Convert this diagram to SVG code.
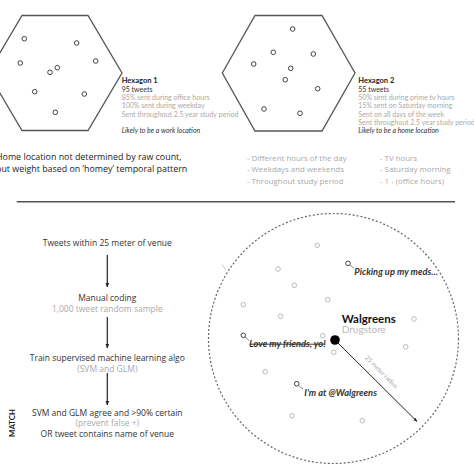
<svg xmlns="http://www.w3.org/2000/svg" width="474" height="474" viewBox="0 0 474 474">
<defs>
<style>
text{font-family:Lato,"Noto Sans","Liberation Sans",sans-serif;}
.os{font-family:"Open Sans","Noto Sans","Liberation Sans",sans-serif;}
.hex{fill:none;stroke:#555;stroke-width:1.3;}
.d{fill:#fff;stroke:#444;stroke-width:1;}
.g{fill:#fff;stroke:#bbb;stroke-width:1;}
.t7{font-size:7px;fill:#333;}
.t7b{font-size:7.5px;fill:#222;font-weight:bold;}
.t7g{font-size:7px;fill:#aaa;}
.t7i{font-size:7px;fill:#333;font-style:italic;}
.f{font-size:8.5px;fill:#333;text-anchor:middle;}
.fg{font-size:8.5px;fill:#aaa;text-anchor:middle;}
.lst{font-size:7.9px;fill:#aaa;}
.note{font-size:8.9px;fill:#222;}
.q{font-size:9.3px;fill:#333;font-weight:bold;font-style:italic;}
.arr{stroke:#222;stroke-width:1.2;fill:none;marker-end:url(#ah);}
</style>
<marker id="ah" viewBox="0 0 10 10" refX="9" refY="5" markerWidth="4" markerHeight="4" orient="auto"><path d="M0,1 L10,5 L0,9 Z" fill="#222"/></marker>
</defs>
<rect width="474" height="474" fill="#fff"/>

<g id="hexagon1">
<polygon class="hex" points="-12,73 22,15.5 88,15.5 122,73 88,130.5 22,130.5"/>
<circle class="d" cx="24.3" cy="38.7" r="2.3"/>
<circle class="d" cx="76.7" cy="43" r="2.3"/>
<circle class="d" cx="20.3" cy="63" r="2.3"/>
<circle class="d" cx="95.7" cy="61" r="2.3"/>
<circle class="d" cx="50" cy="72.3" r="2.3"/>
<circle class="d" cx="57.3" cy="67.7" r="2.3"/>
<circle class="d" cx="34.7" cy="91.7" r="2.3"/>
<circle class="d" cx="84.3" cy="94" r="2.3"/>
<circle class="d" cx="55.3" cy="112.3" r="2.3"/>
<text class="t7b" x="121.7" y="82.5">Hexagon 1</text>
<text class="t7" x="121.7" y="91.5">95 tweets</text>
<text class="t7g" x="121.7" y="99.8">85% sent during office hours</text>
<text class="t7g" x="121.7" y="108.2">100% sent during weekday</text>
<text class="t7g" x="121.7" y="116.5">Sent throughout 2.5 year study period</text>
<text class="t7i" x="121.7" y="133.2">Likely to be a work location</text>
</g>

<g id="hexagon2">
<polygon class="hex" points="222.3,73 255,15.5 322,15.5 355,73 322,131 255,131"/>
<circle class="d" cx="292.7" cy="29" r="2.3"/>
<circle class="d" cx="273.3" cy="52.3" r="2.3"/>
<circle class="d" cx="313.3" cy="54" r="2.3"/>
<circle class="d" cx="253.7" cy="64" r="2.3"/>
<circle class="d" cx="290.7" cy="68.3" r="2.3"/>
<circle class="d" cx="285.3" cy="79.7" r="2.3"/>
<circle class="d" cx="317.7" cy="88.7" r="2.3"/>
<circle class="d" cx="264" cy="109" r="2.3"/>
<circle class="d" cx="300" cy="113.3" r="2.3"/>
<text class="t7b" x="358.3" y="82.5">Hexagon 2</text>
<text class="t7" x="358.3" y="91.5">55 tweets</text>
<text class="t7g" x="358.3" y="99.8">50% sent during prime tv hours</text>
<text class="t7g" x="358.3" y="108.2">15% sent on Saturday morning</text>
<text class="t7g" x="358.3" y="116.5">Sent on all days of the week</text>
<text class="t7g" x="358.3" y="124.8">Sent throughout 2.5 year study period</text>
<text class="t7i" x="358.3" y="133.2">Likely to be a home location</text>
</g>

<g id="home-note">
<text class="os note" x="-4" y="160.3">Home location not determined by raw count,</text>
<text class="os note" x="-4" y="171.5">but weight based on ‘homey’ temporal pattern</text>
</g>
<g id="list1">
<text class="os lst" x="247" y="160.5">- Different hours of the day</text>
<text class="os lst" x="247" y="172.3">- Weekdays and weekends</text>
<text class="os lst" x="247" y="184">- Throughout study period</text>
</g>
<g id="list2">
<text class="os lst" x="380" y="160.5">- TV hours</text>
<text class="os lst" x="380" y="172.3">- Saturday morning</text>
<text class="os lst" x="380" y="184">- 1 - (office hours)</text>
</g>

<line x1="16.7" y1="201.7" x2="455" y2="201.7" stroke="#555" stroke-width="1.5"/>

<g id="step1"><text class="os f" x="107.3" y="246">Tweets within 25 meter of venue</text></g>
<g id="step2"><text class="os f" x="107.3" y="300.5">Manual coding</text><text class="os fg" x="107.3" y="311.8">1,000 tweet random sample</text></g>
<g id="step3"><text class="os f" x="107.3" y="361">Train supervised machine learning algo</text><text class="os fg" x="107.3" y="372">(SVM and GLM)</text></g>
<g id="step4"><text class="os f" x="107.3" y="415.5">SVM and GLM agree and &gt;90% certain</text><text class="os fg" x="107.3" y="425.5">(prevent false +)</text><text class="os f" x="107.3" y="437">OR tweet contains name of venue</text></g>
<g id="match"><text x="0" y="0" transform="translate(14.5,423) rotate(-90)" style="font-size:7.8px;font-weight:bold;fill:#222;text-anchor:middle;">MATCH</text></g>

<g id="venue">
<circle cx="333.5" cy="338.5" r="125" fill="none" stroke="#666" stroke-width="1.2" stroke-dasharray="2 2"/>
<line x1="222" y1="264.3" x2="226" y2="270" stroke="#bbb" stroke-width="0.8"/>
<circle class="g" cx="317.3" cy="245.3" r="2.3"/>
<circle class="g" cx="278" cy="269" r="2.3"/>
<circle class="g" cx="294.3" cy="285.3" r="2.3"/>
<circle class="g" cx="327.7" cy="299.7" r="2.3"/>
<circle class="g" cx="243.3" cy="304.7" r="2.3"/>
<circle class="g" cx="280.7" cy="316.3" r="2.3"/>
<circle class="g" cx="414" cy="319" r="2.3"/>
<circle class="g" cx="322.7" cy="335.7" r="2.3"/>
<circle class="g" cx="405.7" cy="346.8" r="2.3"/>
<circle class="g" cx="333.7" cy="352.3" r="2.3"/>
<circle class="g" cx="265.3" cy="371.7" r="2.3"/>
<circle class="g" cx="292" cy="415.7" r="2.3"/>
<circle class="g" cx="362.3" cy="420.7" r="2.3"/>
<text x="341.7" y="322.5" style="font-size:11.5px;font-weight:bold;fill:#111;">Walgreens</text>
<text x="341.7" y="333" style="font-size:10px;fill:#bbb;">Drugstore</text>
<circle cx="335" cy="340" r="4.8" fill="#000"/>
</g>

<g id="connectors">
<line class="arr" x1="107.3" y1="255" x2="107.3" y2="287"/>
<line class="arr" x1="107.3" y1="317" x2="107.3" y2="348"/>
<line class="arr" x1="107.3" y1="373" x2="107.3" y2="405"/>
<line class="arr" x1="337" y1="342" x2="417" y2="421.5" style="stroke-width:1"/>
<line x1="350" y1="265" x2="354" y2="268.5" stroke="#666" stroke-width="0.8"/>
<line x1="245" y1="337" x2="249" y2="340.5" stroke="#666" stroke-width="0.8"/>
<line x1="298.5" y1="385.5" x2="303" y2="389" stroke="#666" stroke-width="0.8"/>
</g>

<g id="tweet1"><circle class="d" cx="348" cy="263.3" r="2.3"/><text class="q" x="354.3" y="274.5">Picking up my meds...</text></g>
<g id="tweet2"><circle class="d" cx="243.3" cy="335.3" r="2.3"/><text class="q" x="249.3" y="347.2" style="text-decoration:line-through;">Love my friends, yo!</text></g>
<g id="tweet3"><circle class="d" cx="296.7" cy="383.7" r="2.3"/><text class="q" x="304.3" y="395.5">I'm at @Walgreens</text></g>
<g id="radius-label"><text x="0" y="0" transform="translate(380,373.5) rotate(45)" style="font-size:6.3px;fill:#aaa;text-anchor:middle;">25 meter radius</text></g>
</svg>
